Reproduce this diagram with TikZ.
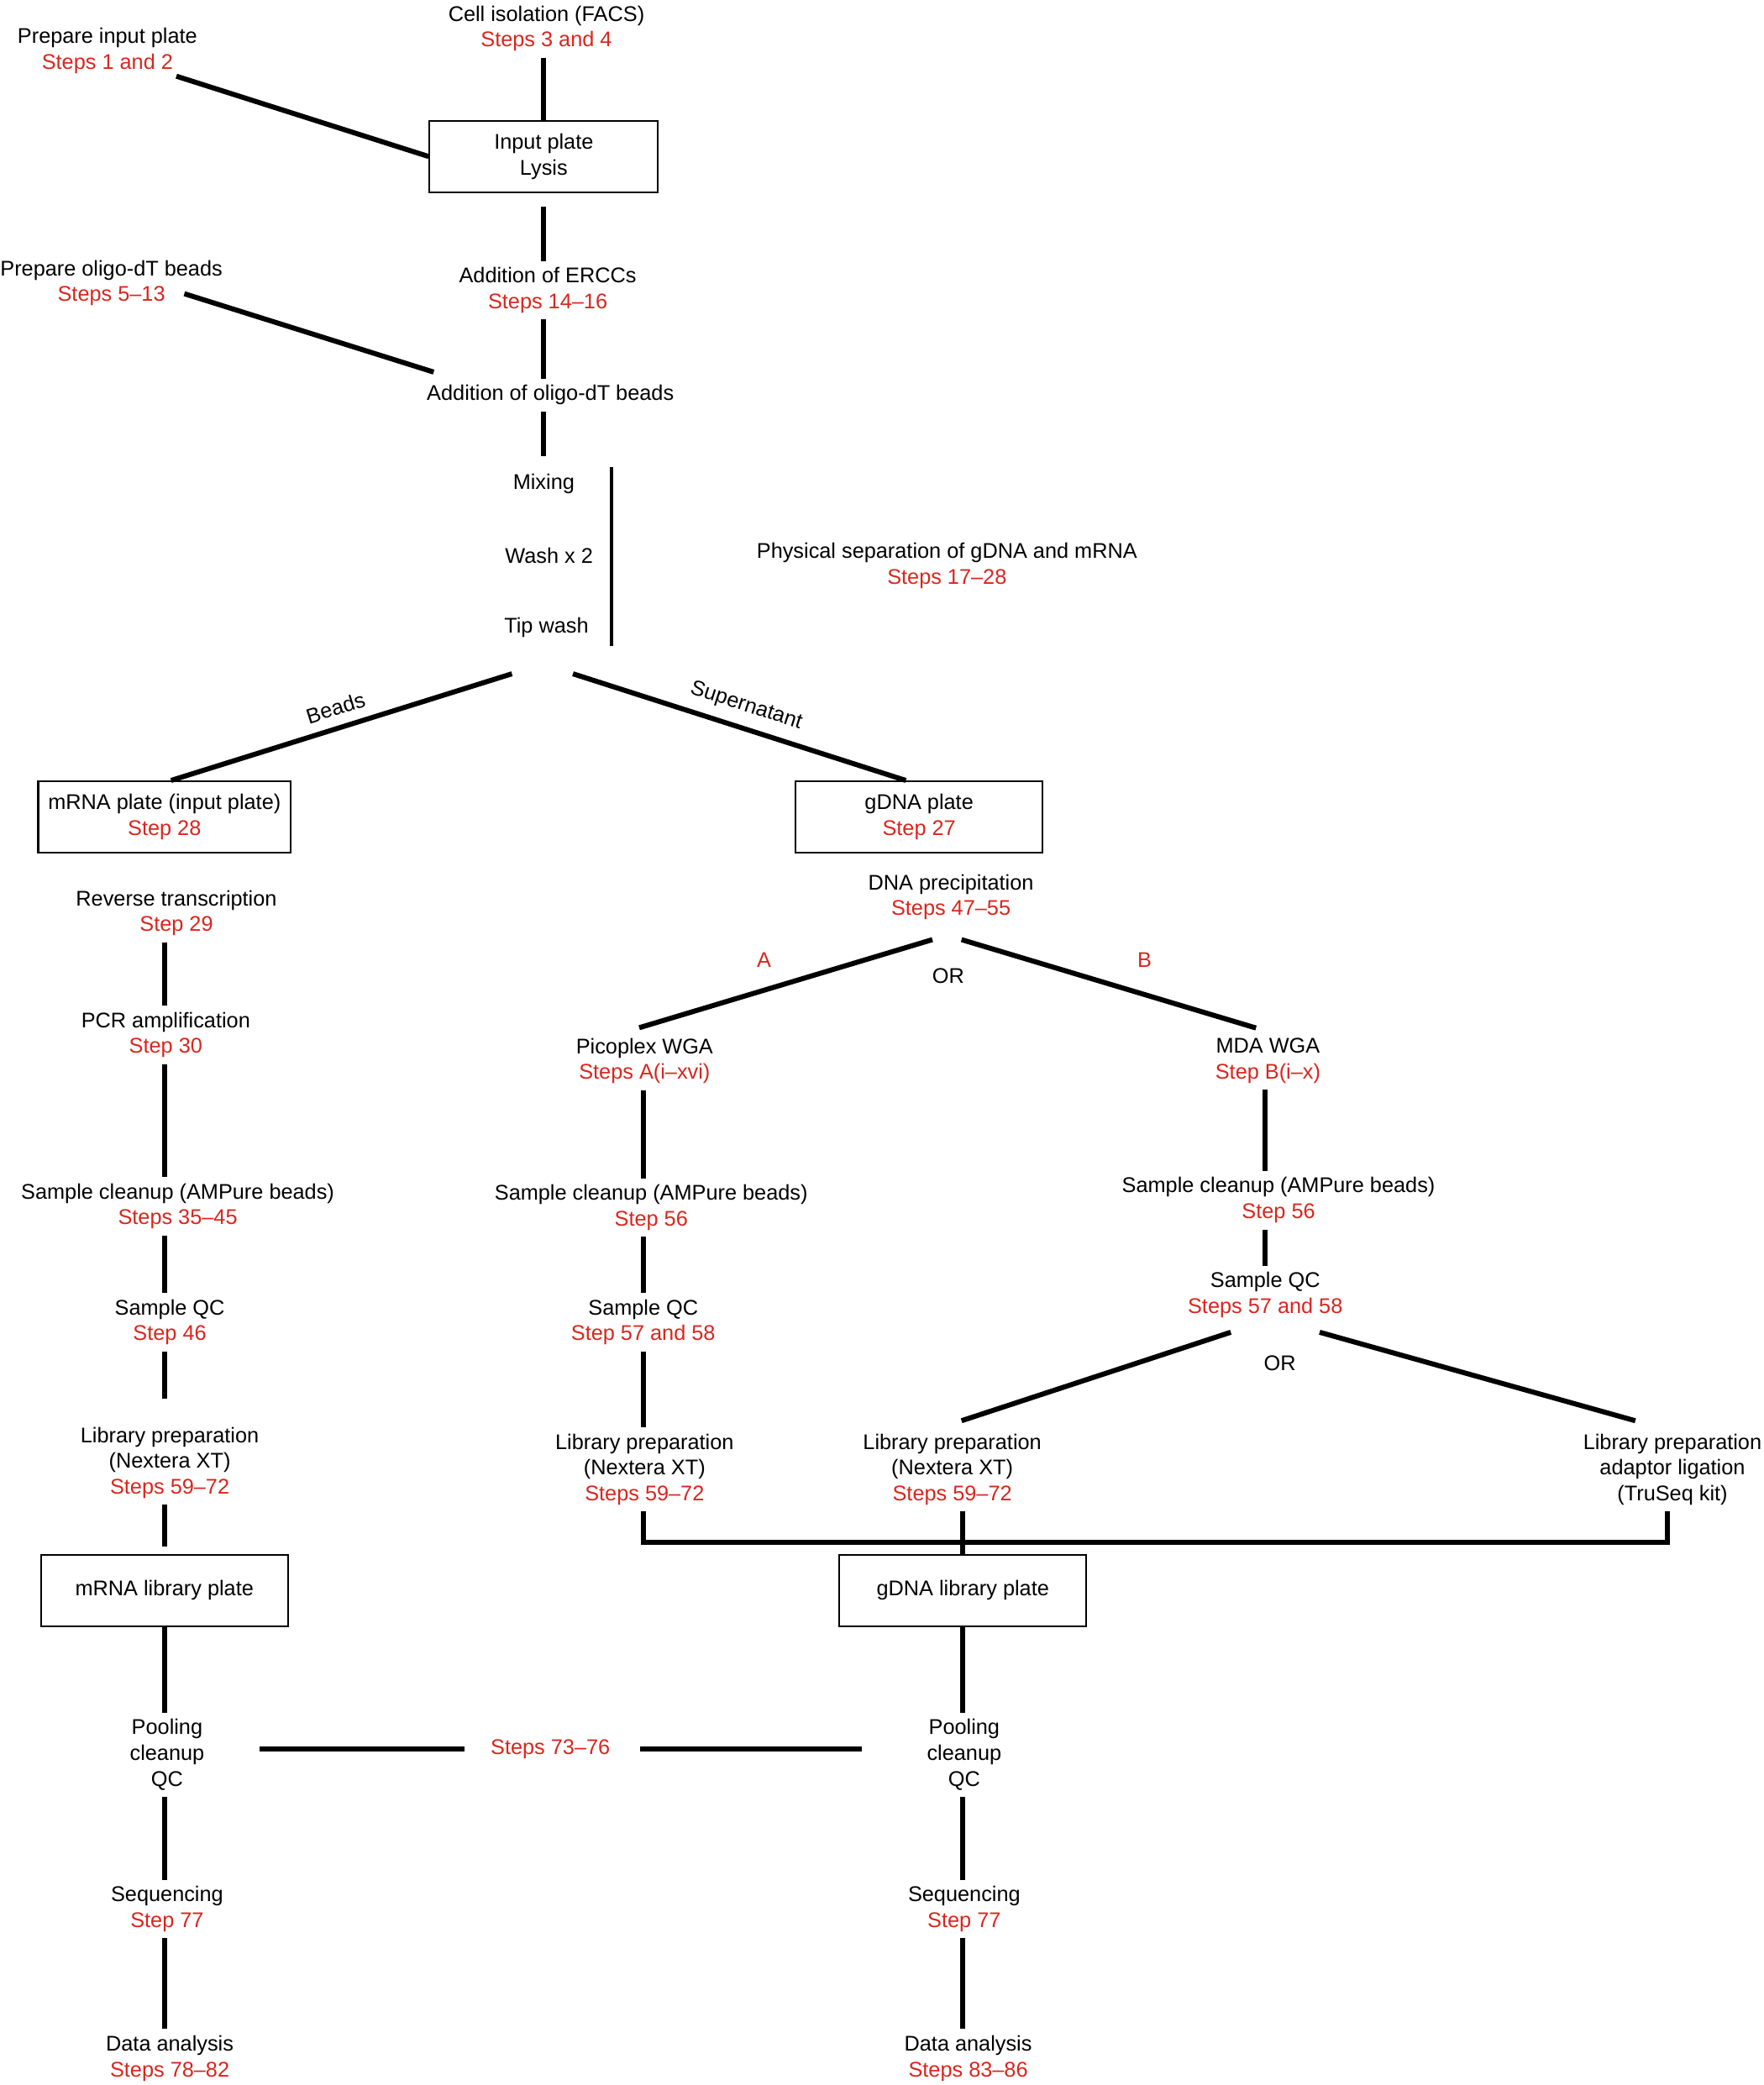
\documentclass[tikz,border=0pt]{standalone}
\usepackage{fontspec}
\setmainfont{Liberation Sans}
\usetikzlibrary{calc}
\definecolor{stepred}{RGB}{218,37,29}
\newcommand{\redstep}[1]{\textcolor{stepred}{#1}}
\tikzset{
    stage/.style={align=center, inner sep=2pt, yshift=-1.3pt},
    plate/.style={
        rectangle, align=center,
        draw=black, line width=0.6pt,
        minimum width=29.4mm, minimum height=8.5mm,
    },
    link/.style={line width=1.7pt},
}

\begin{document}
\begin{tikzpicture}[x=0.1579mm, y=-0.1579mm, font=\fontsize{7.2}{8.7}\selectfont]
    \useasboundingbox (0,0) rectangle (1330,1572);

    % input plate and beads
    \node (prepin) at(81,35.5) [stage] {Prepare input plate\\\redstep{Steps 1 and 2}};
    \node (facs) at(412,18.5) [stage] {Cell isolation (FACS)\\\redstep{Steps 3 and 4}};
    \node (inplate) at(410,118) [plate, minimum width=27.2mm] {Input plate\\Lysis};
    \node (ercc) at(413,216) [stage] {Addition of ERCCs\\\redstep{Steps 14–16}};
    \node (oligo) at(84,210.5) [stage] {Prepare oligo-dT beads\\\redstep{Steps 5–13}};
    \node (beadsadd) at(415,295) [stage] {Addition of oligo-dT beads};
    \node (mixing) at(410,362) [stage] {Mixing};
    \node (wash) at(414,416) [stage] {Wash x 2};
    \node (tipwash) at(412,470) [stage] {Tip wash};
    \node (physsep) at(714,423.5) [stage] {Physical separation of gDNA and mRNA\\\redstep{Steps 17–28}};

    \node (mrnaplate) at(124,616) [plate] {mRNA plate (input plate)\\\redstep{Step 28}};
    \node (gdnaplate) at(693,616) [plate] {gDNA plate\\\redstep{Step 27}};

    % mRNA branch
    \node (revtr) at(133,685.5) [stage] {Reverse transcription\\\redstep{Step 29}};
    \node (pcr) at(125,777.5) [stage] {PCR amplification\\\redstep{Step 30}};
    \node (cleanM) at(134,906.5) [stage] {Sample cleanup (AMPure beads)\\\redstep{Steps 35–45}};
    \node (qcM) at(128,994) [stage] {Sample QC\\\redstep{Step 46}};
    \node (libM) at(128,1100) [stage] {Library preparation\\(Nextera XT)\\\redstep{Steps 59–72}};
    \node (mrnalib) at(124,1199) [plate] {mRNA library plate};
    \node (poolM) at(126,1320) [stage] {Pooling\\cleanup\\QC};
    \node (seqM) at(126,1436.5) [stage] {Sequencing\\\redstep{Step 77}};
    \node (dataM) at(128,1549) [stage] {Data analysis\\\redstep{Steps 78–82}};

    \node (pooling) at(415,1316) [stage] {\redstep{Steps 73–76}};

    % gDNA branch
    \node (dnaprec) at(717,673.5) [stage] {DNA precipitation\\\redstep{Steps 47–55}};
    \node (optA) at(576,721) [stage] {\redstep{A}};
    \node (optB) at(863,721) [stage] {\redstep{B}};
    \node (orAB) at(715,733) [stage] {OR};
    \node (pico) at(486,797) [stage] {Picoplex WGA\\\redstep{Steps A(i–xvi)}};
    \node (cleanA) at(491,907.5) [stage] {Sample cleanup (AMPure beads)\\\redstep{Step 56}};
    \node (qcA) at(485,994) [stage] {Sample QC\\\redstep{Step 57 and 58}};
    \node (libA) at(486,1105) [stage] {Library preparation\\(Nextera XT)\\\redstep{Steps 59–72}};
    \node (mda) at(956,797) [stage] {MDA WGA\\\redstep{Step B(i–x)}};
    \node (cleanB) at(964,902) [stage] {Sample cleanup (AMPure beads)\\\redstep{Step 56}};
    \node (qcB) at(954,973.5) [stage] {Sample QC\\\redstep{Steps 57 and 58}};
    \node (orNT) at(965,1025) [stage] {OR};
    \node (libB) at(718,1105) [stage] {Library preparation\\(Nextera XT)\\\redstep{Steps 59–72}};
    \node (libC) at(1261,1105) [stage] {Library preparation\\adaptor ligation\\(TruSeq kit)};
    \node (gdnalib) at(726,1199) [plate] {gDNA library plate};
    \node (poolG) at(727,1320) [stage] {Pooling\\cleanup\\QC};
    \node (seqG) at(727,1436.5) [stage] {Sequencing\\\redstep{Step 77}};
    \node (dataG) at(730,1549) [stage] {Data analysis\\\redstep{Steps 83–86}};

    \coordinate (washtop) at(461,352);
    \coordinate (washbot) at(461,487);
    \coordinate (sepM) at(386,508);
    \coordinate (sepG) at(432,508);
    \coordinate (merge) at(726,1163);

    % top links
    \draw[link] ($(prepin.south)+(52,-3)$) -- (inplate.west);
    \draw[link] (inplate.north |- facs.south) -- (inplate.north);
    \draw[link, shorten <=4.5pt] (inplate.south) -- (inplate.south |- ercc.north);
    \draw[link] (ercc.south -| inplate.south) -- (beadsadd.north -| inplate.south);
    \draw[link] ($(oligo.south)+(55,-14)$) -- ($(beadsadd.north west)+(10,-5)$);
    \draw[link, shorten >=4pt] (beadsadd.south -| inplate.south) -- (mixing.north -| inplate.south);
    \draw[link, line width=1.3pt] (washtop) -- (washbot);
    \draw[link] ($(mrnaplate.north)+(5,0)$) -- node[above, sloped] {Beads} (sepM);
    \draw[link] (sepG) -- node[above, sloped] {Supernatant} ($(gdnaplate.north)+(-10,0)$);

    % mRNA links
    \foreach \a/\b in {revtr/pcr, pcr/cleanM, cleanM/qcM, poolM/seqM, seqM/dataM}
        \draw[link] (\a.south -| mrnaplate.south) -- (\b.north -| mrnaplate.south);
    \draw[link, shorten >=7.5pt] (qcM.south -| mrnaplate.south) -- (libM.north -| mrnaplate.south);
    \draw[link, shorten >=2.5pt] (libM.south -| mrnalib.north) -- (mrnalib.north);
    \draw[link] (mrnalib.south) -- (poolM.north -| mrnalib.south);

    \draw[link] ($(poolM.east)+(37,-4)$) -- ($(pooling.west)+(-15,0)$);
    \draw[link] ($(pooling.east)+(18,0)$) -- ($(poolG.west)+(-44,-4)$);

    % gDNA links
    \draw[link] ($(dnaprec.south)+(-14,10)$) -- ($(pico.north)+(-4,-3)$);
    \draw[link] ($(dnaprec.south)+(8,10)$) -- ($(mda.north)+(-9,-3)$);
    \foreach \a/\b in {pico/cleanA, cleanA/qcA, qcA/libA}
        \draw[link] (\a.south -| qcA.south) -- (\b.north -| qcA.south);
    \foreach \a/\b in {mda/cleanB, cleanB/qcB}
        \draw[link] (\a.south -| qcB.south) -- (\b.north -| qcB.south);
    \draw[link] ($(qcB.south)+(-26,6)$) -- ($(libB.north)+(7,-5)$);
    \draw[link] ($(qcB.south)+(41,6)$) -- ($(libC.north)+(-28,-5)$);
    \draw[link] (libA.south -| qcA.south) |- (merge) -| ($(libC.south)+(-4,0)$);
    \draw[link] (libB.south -| merge) -- (gdnalib.north);
    \draw[link] (gdnalib.south) -- (poolG.north -| gdnalib.south);
    \foreach \a/\b in {poolG/seqG, seqG/dataG}
        \draw[link] (\a.south -| gdnalib.south) -- (\b.north -| gdnalib.south);
\end{tikzpicture}
\end{document}
